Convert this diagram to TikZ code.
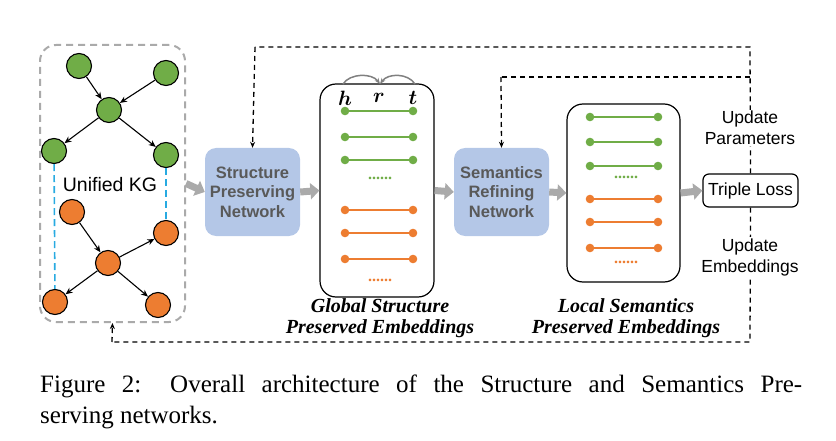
\documentclass[tikz,border=0pt]{standalone}
\usepackage{amsmath}
\usepackage{fontspec}
\setmainfont{Liberation Serif}
\newfontfamily\sans{Liberation Sans}
\usetikzlibrary{arrows.meta}
\definecolor{gn}{RGB}{112,173,71}
\definecolor{og}{RGB}{237,125,49}
\definecolor{bl}{RGB}{180,199,231}
\definecolor{gr}{RGB}{170,170,170}
\definecolor{cy}{RGB}{40,170,225}
\begin{document}
\begin{tikzpicture}[x=1pt,y=-1pt,
  g/.style={circle,draw=black,line width=1.1pt,fill=gn,minimum size=25pt,inner sep=0pt},
  o/.style={circle,draw=black,line width=1.1pt,fill=og,minimum size=25pt,inner sep=0pt},
  e/.style={-{Stealth[length=7pt,width=6pt]},line width=1.1pt},
  net/.style={rounded corners=11pt,fill=bl,minimum width=95pt,minimum height=88pt,align=center,font=\sans\bfseries\fontsize{16.5}{19.5}\selectfont,text=black!65},
  fat/.style={-{Triangle[length=9pt,width=16pt]},line width=7pt,draw=gr},
  emb/.style={draw=black,line width=1.2pt,rounded corners=16pt},
  dd/.style={dash pattern=on 5pt off 4pt,line width=1.3pt},
  da/.style={dash pattern=on 5pt off 4pt,line width=1.3pt,-{Stealth[length=6pt,width=5pt]}},
  lab/.style={font=\bfseries\itshape\fontsize{20}{22}\selectfont},
  sf/.style={font=\sans\fontsize{17.5}{21}\selectfont,align=center}]
\useasboundingbox (0,0) rectangle (836,441);
% KG box
\node[draw=gr,dash pattern=on 7pt off 5pt,line width=2pt,rounded corners=16pt,minimum width=145pt,minimum height=277pt] (kg) at (112.5,183.5) {};
\node (g1) [g] at (79,66) {};
\node (g2) [g] at (166,73) {};
\node (g3) [g] at (109,110) {};
\node (g4) [g] at (54,151) {};
\node (g5) [g] at (166,155) {};
\node (o1) [o] at (72,212) {};
\node (o2) [o] at (166,233) {};
\node (o3) [o] at (108,263) {};
\node (o4) [o] at (55,302) {};
\node (o5) [o] at (158,305) {};
\draw[e] (g1)--(g3); \draw[e] (g2)--(g3); \draw[e] (g3)--(g4); \draw[e] (g3)--(g5);
\draw[e] (o1)--(o3); \draw[e] (o3)--(o2); \draw[e] (o3)--(o4); \draw[e] (o3)--(o5);
\draw[cy,dash pattern=on 7pt off 4pt,line width=1.6pt] (g4)--(o4);
\draw[cy,dash pattern=on 7pt off 4pt,line width=1.6pt] (g5)--(o2);
\node[font=\sans\fontsize{19.5}{22}\selectfont] (ukg) at (110,185) {Unified KG};
% networks
\node[net] (sp) at (252.5,192) {Structure\\Preserving\\Network};
\node[net] (sr) at (501.5,192) {Semantics\\Refining\\Network};
% embedding boxes
\node[emb,minimum width=114pt,minimum height=213pt] (ge) at (377,190.5) {};
\node[emb,minimum width=113pt,minimum height=178pt] (le) at (623.5,193) {};
\node[draw=black,line width=1.2pt,rounded corners=6pt,minimum width=95pt,minimum height=33pt,font=\sans\fontsize{17.5}{20}\selectfont] (tl) at (750.5,190.5) {Triple Loss};
% fat arrows
\draw[fat] (kg.east) -- (sp.west);
\draw[fat] (sp.east) -- (ge.west);
\draw[fat] (ge.east) -- (sr.west);
\draw[fat] (sr.east) -- (le.west);
\draw[fat] (le.east) -- (tl.west);
% h r t
\node[font=\fontsize{22}{24}\selectfont] (hh) at (345,98) {$\boldsymbol{h}$};
\node[font=\fontsize{22}{24}\selectfont] (rr) at (379,98) {$\boldsymbol{r}$};
\node[font=\fontsize{22}{24}\selectfont] (tt) at (413,98) {$\boldsymbol{t}$};
\coordinate (rt) at (380,84);
\draw[gray,line width=1.5pt,-{Stealth[length=6pt]}] (343,84) .. controls (350,73) and (372,73) .. (rt);
\draw[gray,line width=1.5pt,-{Stealth[length=6pt]}] (415,84) .. controls (408,73) and (388,73) .. (rt);
% global embeddings
\foreach \y/\c in {111/gn,137/gn,160/gn,210/og,233/og,259/og}{
  \draw[\c,line width=1.3pt] (345,\y)--(413,\y);
  \fill[\c] (345,\y) circle (4.3pt) (413,\y) circle (4.3pt);}
\node[gn,font=\bfseries\fontsize{16}{16}\selectfont] at (380,178) {......};
\node[og,font=\bfseries\fontsize{16}{16}\selectfont] at (380,280) {......};
\foreach \y/\c in {117/gn,142/gn,166/gn,199/og,222/og,248/og}{
  \draw[\c,line width=1.3pt] (590,\y)--(658,\y);
  \fill[\c] (590,\y) circle (4.3pt) (658,\y) circle (4.3pt);}
\node[gn,font=\bfseries\fontsize{16}{16}\selectfont] at (626,177) {......};
\node[og,font=\bfseries\fontsize{16}{16}\selectfont] at (626,262) {......};
\node[lab] (gl1) at (380,306) {Global Structure};
\node[lab] (gl2) at (380,329) {Preserved Embeddings};
\node[lab] (ll1) at (626,306) {Local Semantics};
\node[lab] (ll2) at (626,329) {Preserved Embeddings};
% dashed feedback
\coordinate (c1) at (750,47); \coordinate (c2) at (255,47);
\coordinate (c3) at (750,77); \coordinate (c4) at (501,77);
\coordinate (c5) at (750,342); \coordinate (c6) at (112,342);
\draw[dd] (tl.north) -- (c1) -- (c2);
\draw[da] (c2) -- (sp.north);
\draw[dd] (c3) -- (c4);
\draw[da] (c4) -- (sr.north);
\draw[dd] (tl.south) -- (c5) -- (c6);
\draw[da] (c6) -- (kg.south);
\node[sf,fill=white,inner sep=1pt] (up) at (750,128) {Update\\Parameters};
\node[sf,fill=white,inner sep=1pt] (ue) at (750,257) {Update\\Embeddings};
% caption
\node[anchor=west,inner sep=0pt,font=\fontsize{25}{28}\selectfont] (cap1) at (40,386) {\makebox[762pt][s]{Figure 2: Overall architecture of the Structure and Semantics Pre-}};
\node[anchor=west,inner sep=0pt,font=\fontsize{25}{28}\selectfont] (cap2) at (40,418) {serving networks.};
\end{tikzpicture}
\end{document}
